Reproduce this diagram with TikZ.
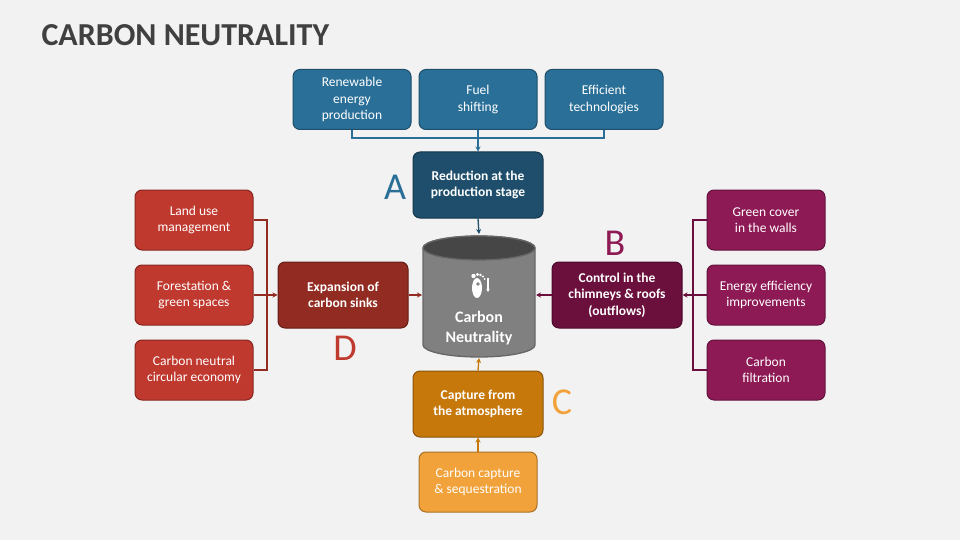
\documentclass[tikz,border=0pt]{standalone}
\usepackage{fontspec}
\setmainfont{Carlito}
\usetikzlibrary{shapes.geometric,arrows.meta}
\definecolor{bg}{HTML}{F2F2F2}
\definecolor{blueL}{HTML}{2A6F97}
\definecolor{blueD}{HTML}{1E4E6B}
\definecolor{redL}{HTML}{C0392F}
\definecolor{redD}{HTML}{922B21}
\definecolor{purL}{HTML}{8E1A55}
\definecolor{purD}{HTML}{6B0F3C}
\definecolor{orD}{HTML}{C7780A}
\definecolor{orL}{HTML}{F2A23A}
\definecolor{cyl}{HTML}{808080}
\tikzset{
 box/.style={draw=#1!70!black, fill=#1, rounded corners=7pt, line width=1pt, text=white, align=center, font=\fontsize{13.5}{16.5}\selectfont, minimum width=118pt, minimum height=60pt, inner sep=2pt},
 mainbox/.style={box=#1, minimum width=130pt, minimum height=66pt, font=\bfseries\fontsize{13.5}{16.5}\selectfont},
 conn/.style={draw=#1, line width=1.3pt},
 arr/.style={conn=#1, -{Stealth[length=5pt,width=5pt]}},
 letter/.style={font=\fontsize{38}{38}\selectfont, text=#1}
}
\begin{document}
\begin{tikzpicture}[x=1pt,y=-1pt]
\fill[bg] (0,0) rectangle (960,540);
\useasboundingbox (0,0) rectangle (960,540);
\node[anchor=west, font=\bfseries\fontsize{32}{32}\selectfont, text=black!75] (title) at (38,35) {CARBON NEUTRALITY};
% top
\node[box=blueL] (t1) at (352,99.5) {Renewable\\energy\\production};
\node[box=blueL] (t2) at (478,99.5) {Fuel\\shifting};
\node[box=blueL] (t3) at (604,99.5) {Efficient\\technologies};
\node[mainbox=blueD] (A) at (478,185) {Reduction at the\\production stage};
\coordinate (tj) at (478,138);
\draw[conn=blueL] (t1.south) |- (t3.south |- tj) -- (t3.south);
\draw[conn=blueL] (t2.south) -- (tj);
\draw[arr=blueL] (tj) -- (A.north);
\node[letter=blueL] (la) at (395,187) {A};
% cylinder
\filldraw[fill=cyl, draw=black!60, line width=1.3pt] (423,248) -- (423,345) arc[start angle=180, end angle=0, x radius=56, y radius=12] -- (535,248) arc[start angle=0, end angle=-180, x radius=56, y radius=12] -- cycle;
\filldraw[fill=black!45!cyl, draw=black!60, line width=1.3pt] (479,248) ellipse (56 and 12);
\node[text=white, align=center, font=\bfseries\fontsize{16}{20}\selectfont] (cnt) at (479,328) {Carbon\\Neutrality};
% footprint icon
\fill[white] (477,288) ellipse (5 and 10);
\fill[white] (473.5,276) circle (2.2) (477.5,274.5) circle (1.6) (480.5,275) circle (1.3) (483,276.5) circle (1.1) (484.5,279) circle (1);
\fill[cyl] (478,284) circle (1.8);
\draw[white, line width=1.2pt, -{Stealth[length=3pt,width=3.5pt]}] (488,278) -- (488,292);
\draw[arr=blueD] (A.south) -- (479,234);
% left
\node[box=redL] (l1) at (194,220) {Land use\\management};
\node[box=redL] (l2) at (194,295) {Forestation \&\\green spaces};
\node[box=redL] (l3) at (194,370) {Carbon neutral\\circular economy};
\node[mainbox=redD] (D) at (343,295) {Expansion of\\carbon sinks};
\coordinate (lj) at (267,295);
\draw[conn=redD] (l1.east) -- (lj |- l1.east) -- (lj |- l3.east) -- (l3.east);
\draw[arr=redD] (l2.east) -- (D.west);
\draw[arr=redD] (D.east) -- (422,295);
\node[letter=redL] (ld) at (345,348) {D};
% right
\node[box=purL] (r1) at (766,220) {Green cover\\in the walls};
\node[box=purL] (r2) at (766,295) {Energy efficiency\\improvements};
\node[box=purL] (r3) at (766,370) {Carbon\\filtration};
\node[mainbox=purD] (B) at (617,295) {Control in the\\chimneys \& roofs\\(outflows)};
\coordinate (rj) at (693,295);
\draw[conn=purD] (r1.west) -- (rj |- r1.west) -- (rj |- r3.west) -- (r3.west);
\draw[arr=purD] (r2.west) -- (B.east);
\draw[arr=purD] (B.west) -- (536,295);
\node[letter=purL] (lb) at (615,243) {B};
% bottom
\node[mainbox=orD] (C) at (478,404) {Capture from\\the atmosphere};
\node[box=orL] (b1) at (478,482) {Carbon capture\\\& sequestration};
\draw[arr=orD] (C.north) -- (479,358);
\draw[arr=orD] (b1.north) -- (C.south);
\node[letter=orL] (lc) at (562,402) {C};
\end{tikzpicture}
\end{document}
